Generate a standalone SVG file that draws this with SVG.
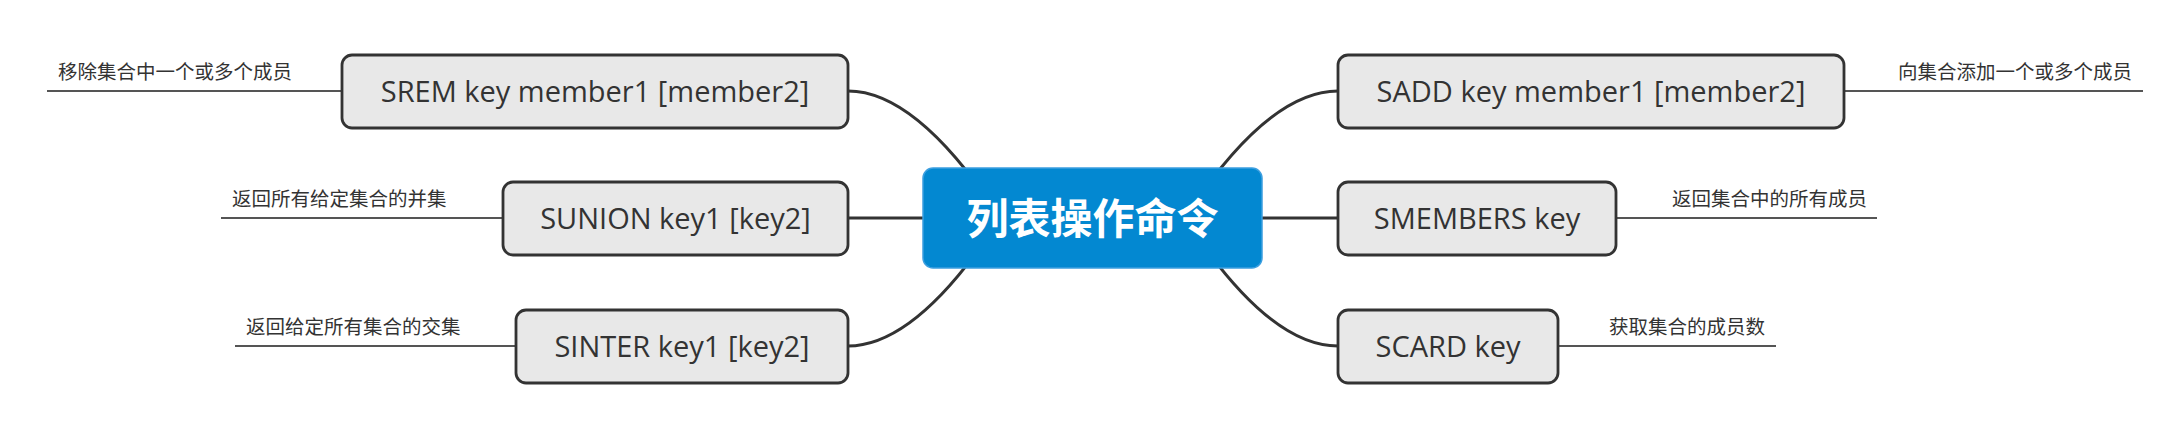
<svg xmlns="http://www.w3.org/2000/svg" width="2169" height="439" viewBox="0 0 2169 439">
<style>
.conn{fill:none;stroke:#333;stroke-width:3}
.lbl-line{fill:none;stroke:#555;stroke-width:2}
.box{fill:#e8e8e8;stroke:#333;stroke-width:2.8}
.root{fill:#0388d1;stroke:#3d9fe0;stroke-width:1.5}
.ntext{font-family:"Open Sans","Noto Sans",sans-serif;font-size:29px;font-weight:500;fill:#333;text-anchor:middle}
.rtext{font-family:"Noto Sans CJK SC",sans-serif;font-size:42px;font-weight:700;fill:#fff;text-anchor:middle}
.ltext{font-family:"Noto Sans CJK SC",sans-serif;font-size:19.5px;fill:#333}
</style>
<rect width="2169" height="439" fill="#fff"/>
<g id="connectors">
<path class="conn" d="M848,91 Q915,91 995,210"/>
<path class="conn" d="M848,218 H923"/>
<path class="conn" d="M848,346 Q915,346 995,226"/>
<path class="conn" d="M1338,91 Q1270,91 1190,210"/>
<path class="conn" d="M1262,218 H1338"/>
<path class="conn" d="M1338,346 Q1270,346 1190,226"/>
<path class="lbl-line" d="M47,91 H342"/>
<path class="lbl-line" d="M221,218 H503"/>
<path class="lbl-line" d="M235,346 H516"/>
<path class="lbl-line" d="M1844,91 H2143"/>
<path class="lbl-line" d="M1616,218 H1877"/>
<path class="lbl-line" d="M1558,346 H1776"/>
</g>
<g id="root">
<rect class="root" x="923" y="168" width="339" height="100" rx="10"/>
<text class="rtext" x="1092.5" y="234">列表操作命令</text>
</g>
<g id="srem">
<rect class="box" x="342" y="55" width="506" height="73" rx="10"/>
<text class="ntext" x="595" y="102">SREM key member1 [member2]</text>
<text class="ltext" x="58" y="79">移除集合中一个或多个成员</text>
</g>
<g id="sunion">
<rect class="box" x="503" y="182" width="345" height="73" rx="10"/>
<text class="ntext" x="675.5" y="229">SUNION key1 [key2]</text>
<text class="ltext" x="232" y="206">返回所有给定集合的并集</text>
</g>
<g id="sinter">
<rect class="box" x="516" y="310" width="332" height="73" rx="10"/>
<text class="ntext" x="682" y="357">SINTER key1 [key2]</text>
<text class="ltext" x="246" y="334">返回给定所有集合的交集</text>
</g>
<g id="sadd">
<rect class="box" x="1338" y="55" width="506" height="73" rx="10"/>
<text class="ntext" x="1591" y="102">SADD key member1 [member2]</text>
<text class="ltext" x="2132" y="79" text-anchor="end">向集合添加一个或多个成员</text>
</g>
<g id="smembers">
<rect class="box" x="1338" y="182" width="278" height="73" rx="10"/>
<text class="ntext" x="1477" y="229">SMEMBERS key</text>
<text class="ltext" x="1867" y="206" text-anchor="end">返回集合中的所有成员</text>
</g>
<g id="scard">
<rect class="box" x="1338" y="310" width="220" height="73" rx="10"/>
<text class="ntext" x="1448" y="357">SCARD key</text>
<text class="ltext" x="1765" y="334" text-anchor="end">获取集合的成员数</text>
</g>
</svg>
